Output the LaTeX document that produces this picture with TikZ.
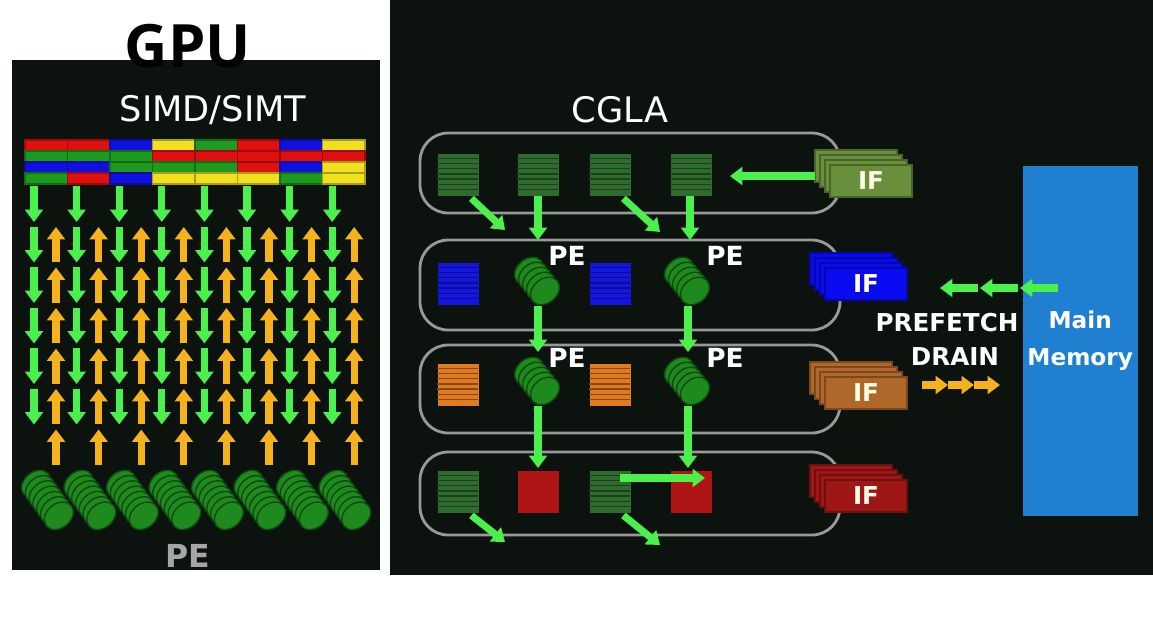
\documentclass[tikz,border=0pt]{standalone}
\usepackage{fontspec}
\setmainfont{DejaVu Sans}
\newfontfamily\gpufont{Open Sans}
\usetikzlibrary{arrows.meta}
\definecolor{bg}{HTML}{0C130E}
\definecolor{ga}{HTML}{4CF04C}
\definecolor{oa}{HTML}{F5B21C}
\definecolor{cr}{HTML}{E01010}
\definecolor{cg}{HTML}{1E9A1E}
\definecolor{cb}{HTML}{1010E0}
\definecolor{cy}{HTML}{F0E020}
\definecolor{pe}{HTML}{1E8A1E}
\definecolor{pedk}{HTML}{0E4A0E}
\definecolor{sqg}{HTML}{2F6B2F}
\definecolor{sqb}{HTML}{1515E0}
\definecolor{sqo}{HTML}{E07A20}
\definecolor{sqr}{HTML}{B01515}
\definecolor{ifo}{HTML}{6A8F3C}
\definecolor{ifb}{HTML}{0A0AF0}
\definecolor{ifn}{HTML}{B0682A}
\definecolor{ifr}{HTML}{9E1616}
\definecolor{mem}{HTML}{1F7FD0}
\tikzset{
  garr/.style={draw=ga,line width=2pt,-{Triangle[width=5pt,length=3.5pt]}},
  oarr/.style={draw=oa,line width=2pt,-{Triangle[width=5pt,length=3.5pt]}},
  lbl/.style={text=white,font=\bfseries},
  row/.style={draw=gray!80,line width=0.8pt,rounded corners=8pt},
  pel/.style={text=white,font=\bfseries\fontsize{7.5}{8}\selectfont},
}
\newcommand{\sq}[4]{% name, x, y, colour
  \node[fill=#4,minimum width=41*0.01cm,minimum height=42*0.01cm,inner sep=0,anchor=north west] (#1) at (#2,#3) {};
  \foreach \k in {1,...,7}{\draw[#4!60!black,line width=0.4pt] (#2,#3+\k*5.2) -- ++(41,0);}
}
\newcommand{\cyl}[5]{% x y count dx dy
  \foreach \k in {0,...,#3}{\fill[pe,draw=pedk,line width=0.4pt,rotate around={40:(#1+\k*#4,#2+\k*#5)}] (#1+\k*#4,#2+\k*#5) ellipse [x radius=16,y radius=12];}
}
\newcommand{\ifstack}[4]{% name x y colour
  \foreach \k in {0,...,3}{\fill[#4,draw=#4!70!black,line width=0.3pt] (#2+\k*5,#3+\k*5) rectangle ++(82,32);}
  \node[lbl,font=\bfseries\fontsize{7}{7}\selectfont,text=white!90!yellow] (#1) at (#2+15+41,#3+31) {IF};
}
\begin{document}
\begin{tikzpicture}[x=0.01cm,y=-0.01cm]
\useasboundingbox (0,0) rectangle (1153,626);
\fill[white] (0,0) rectangle (1153,626);
% panels
\fill[bg] (12,60) rectangle (380,570);
\fill[bg] (390,0) rectangle (1153,575);
\draw[white,line width=1.5pt] (385,0) -- (385,626);
\node[font=\gpufont\bfseries\fontsize{17}{17}\selectfont] (gpu) at (188,46) {GPU};
\node[text=white,font=\fontsize{10}{10}\selectfont] (simd) at (213,110) {SIMD/SIMT};
% colour bars
\foreach \i/\a/\b/\c/\d in {0/cr/cg/cb/cg,1/cr/cg/cb/cr,2/cb/cg/cg/cb,3/cy/cr/cg/cy,4/cg/cr/cg/cy,5/cr/cr/cr/cy,6/cb/cr/cb/cg,7/cy/cr/cy/cy}{
  \foreach \j/\cc in {0/\a,1/\b,2/\c,3/\d}{
    \fill[\cc,draw=\cc!70!black,line width=0.3pt] (25+\i*42.5,140+\j*11) rectangle ++(42.5,11);
  }
}
% arrays of arrows
\foreach \i in {0,...,7}{
  \foreach \r in {0,...,5}{
    \draw[garr] (34+\i*42.6,186+\r*40.5) -- ++(0,36);
    \draw[oarr] (56+\i*42.6,262+\r*40.5) -- ++(0,-35);
  }
}
% GPU PEs
\foreach \i in {0,...,7}{ \cyl{36+\i*42.5}{484}{6}{3.8}{5.3} }
\node[text=gray!70,font=\bfseries\fontsize{9}{9}\selectfont] (gpe) at (188,556) {PE};
% CGLA
\node[text=white,font=\fontsize{10}{10}\selectfont] (cgla) at (620,110) {CGLA};
\draw[row] (420,133) rectangle (840,213);
\draw[row] (420,240) rectangle (840,330);
\draw[row] (420,345) rectangle (840,433);
\draw[row] (420,452) rectangle (840,535);
% row 1
\sq{a1}{437}{153}{sqg}\sq{a2}{517}{153}{sqg}\sq{a3}{589}{153}{sqg}\sq{a4}{670}{153}{sqg}
% row 2
\sq{b1}{437}{262}{sqb}\sq{b3}{589}{262}{sqb}
% row 3
\sq{c1}{437}{363}{sqo}\sq{c3}{589}{363}{sqo}
% row 4
\sq{d1}{437}{470}{sqg}\sq{d3}{589}{470}{sqg}
\node[fill=sqr,minimum width=41*0.01cm,minimum height=42*0.01cm,inner sep=0,anchor=north west] (d2) at (517,470) {};
\node[fill=sqr,minimum width=41*0.01cm,minimum height=42*0.01cm,inner sep=0,anchor=north west] (d4) at (670,470) {};
% PE cylinders
\cyl{529}{271}{4}{4}{5}\cyl{679}{271}{4}{4}{5}
\cyl{529}{371}{4}{4}{5}\cyl{679}{371}{4}{4}{5}
\coordinate (p1) at (538,306); \coordinate (p2) at (688,306);
\coordinate (p3) at (538,406); \coordinate (p4) at (688,406);
\node[pel] (pe1) at (567,256) {PE};
\node[pel] (pe2) at (725,256) {PE};
\node[pel] (pe3) at (567,358) {PE};
\node[pel] (pe4) at (725,358) {PE};
% arrows in CGLA
\coordinate (t1) at (505,230); \coordinate (t2) at (660,232);
\coordinate (s2) at (538,196); \coordinate (s4) at (690,196);
\coordinate (e2) at (538,240); \coordinate (e4) at (690,240);
\draw[garr] (a1.south east) ++(-8,2) -- (t1);
\draw[garr] (a3.south east) ++(-8,2) -- (t2);
\draw[garr] (s2) -- (e2);
\draw[garr] (s4) -- (e4);
\draw[garr] (p1) -- (538,352);
\draw[garr] (p2) -- (688,352);
\draw[garr] (p3) -- (538,468);
\draw[garr] (p4) -- (688,468);
\coordinate (h1) at (705,478);
\draw[garr] (620,478) -- (h1);
\coordinate (b1e) at (505,542); \coordinate (b2e) at (660,545);
\draw[garr] (d1.south east) ++(-8,2) -- (b1e);
\draw[garr] (d3.south east) ++(-8,2) -- (b2e);
% IF stacks
\ifstack{if1}{815}{150}{ifo}
\ifstack{if2}{810}{253}{ifb}
\ifstack{if3}{810}{362}{ifn}
\ifstack{if4}{810}{465}{ifr}
\coordinate (ifa) at (815,176); \coordinate (ifb2) at (730,176);
\draw[garr] (ifa) -- (ifb2);
% memory
\node[fill=mem,minimum width=115*0.01cm,minimum height=350*0.01cm,inner sep=0,anchor=north west] (mem) at (1022,165) {};
\node[text=white,align=center,font=\bfseries\fontsize{6.6}{10.5}\selectfont] (memt) at (mem.center) {Main\\Memory};
\draw[garr] (1058,288) -- (1020,288);
\draw[garr] (1018,288) -- (980,288);
\draw[garr] (978,288) -- (940,288);
\node[text=white,font=\bfseries\fontsize{7}{8}\selectfont] (pf) at (947,323) {PREFETCH};
\node[text=white,font=\bfseries\fontsize{7}{8}\selectfont] (dr) at (955,357) {DRAIN};
\draw[oarr] (922,385) -- (948,385);
\draw[oarr] (948,385) -- (974,385);
\draw[oarr] (974,385) -- (1000,385);
\end{tikzpicture}
\end{document}
